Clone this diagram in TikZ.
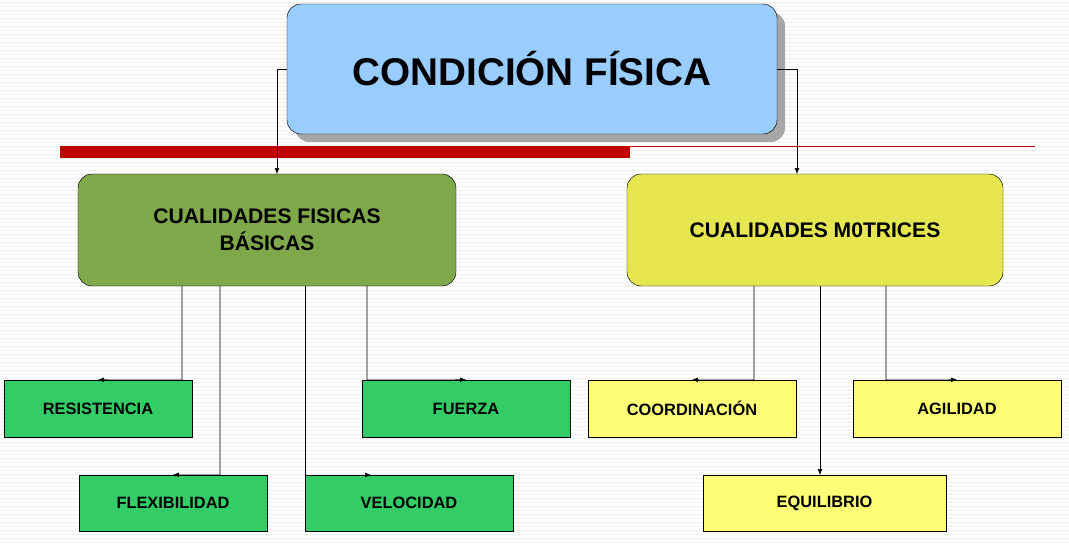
\documentclass[tikz,border=0pt]{standalone}
\usepackage{fontspec}
\setmainfont{Liberation Sans}
\usetikzlibrary{arrows.meta}
\begin{document}
\begin{tikzpicture}[x=0.03cm,y=-0.03cm,
 box/.style={draw=black,rounded corners=12pt,inner sep=0pt,font=\bfseries},
 leaf/.style={draw=black,inner sep=0pt,font=\bfseries\fontsize{14}{16}\selectfont},
 conn/.style={draw=black,line width=0.5pt,-{Latex[length=5pt,width=4pt]}}]
\definecolor{tblue}{HTML}{99CCFF}\definecolor{olive}{HTML}{7FA84A}
\definecolor{myel}{HTML}{E6E650}\definecolor{lgreen}{HTML}{33CC66}
\definecolor{lyel}{HTML}{FFFF77}\definecolor{dred}{HTML}{C00000}
\useasboundingbox (0,0) rectangle (1069,544);
\foreach \y in {2,6,...,542} \draw[gray!12,line width=0.4pt] (0,\y)--(1069,\y);
\fill[dred] (60,146) rectangle (630,158);
\draw[dred,line width=0.5pt] (630,146)--(1035,146);
\fill[gray!70,rounded corners=12pt] (295,12) rectangle (785,142);
\node[box,fill=tblue,minimum width=490*0.03cm,minimum height=130*0.03cm,font=\bfseries\fontsize{33}{38}\selectfont] (t) at (532,69) {CONDICIÓN FÍSICA};
\node[box,fill=olive,minimum width=378*0.03cm,minimum height=112*0.03cm,align=center,font=\bfseries\fontsize{18}{23}\selectfont] (l) at (267,230) {CUALIDADES FISICAS\\BÁSICAS};
\node[box,fill=myel,minimum width=376*0.03cm,minimum height=112*0.03cm,font=\bfseries\fontsize{18}{23}\selectfont] (r) at (815,230) {CUALIDADES M0TRICES};
\node[leaf,fill=lgreen,minimum width=188*0.03cm,minimum height=57*0.03cm] (res) at (98,408.5) {RESISTENCIA};
\node[leaf,fill=lgreen,minimum width=208*0.03cm,minimum height=57*0.03cm] (fue) at (466,408.5) {FUERZA};
\node[leaf,fill=lgreen,minimum width=188*0.03cm,minimum height=56*0.03cm] (fle) at (173,503) {FLEXIBILIDAD};
\node[leaf,fill=lgreen,minimum width=208*0.03cm,minimum height=56*0.03cm] (vel) at (409,503) {VELOCIDAD};
\node[leaf,fill=lyel,minimum width=208*0.03cm,minimum height=57*0.03cm] (coo) at (692,408.5) {COORDINACIÓN};
\node[leaf,fill=lyel,minimum width=208*0.03cm,minimum height=57*0.03cm] (agi) at (957,408.5) {AGILIDAD};
\node[leaf,fill=lyel,minimum width=243*0.03cm,minimum height=56*0.03cm] (equ) at (824.5,503) {EQUILIBRIO};
\draw[conn] (t.west) -- (277,69) -- (277,174);
\draw[conn] (t.east) -- (797,69) -- (797,174);
\draw[conn] (182,286) -- (182,380) -- (res.north);
\draw[conn] (220,286) -- (220,475) -- (fle.north);
\draw[conn] (305,286) -- (305,475) -- (371,475);
\draw[conn] (367,286) -- (367,380) -- (fue.north);
\draw[conn] (754,286) -- (754,380) -- (coo.north);
\draw[conn] (820,286) -- (820,475);
\draw[conn] (886,286) -- (886,380) -- (agi.north);
\end{tikzpicture}
\end{document}
